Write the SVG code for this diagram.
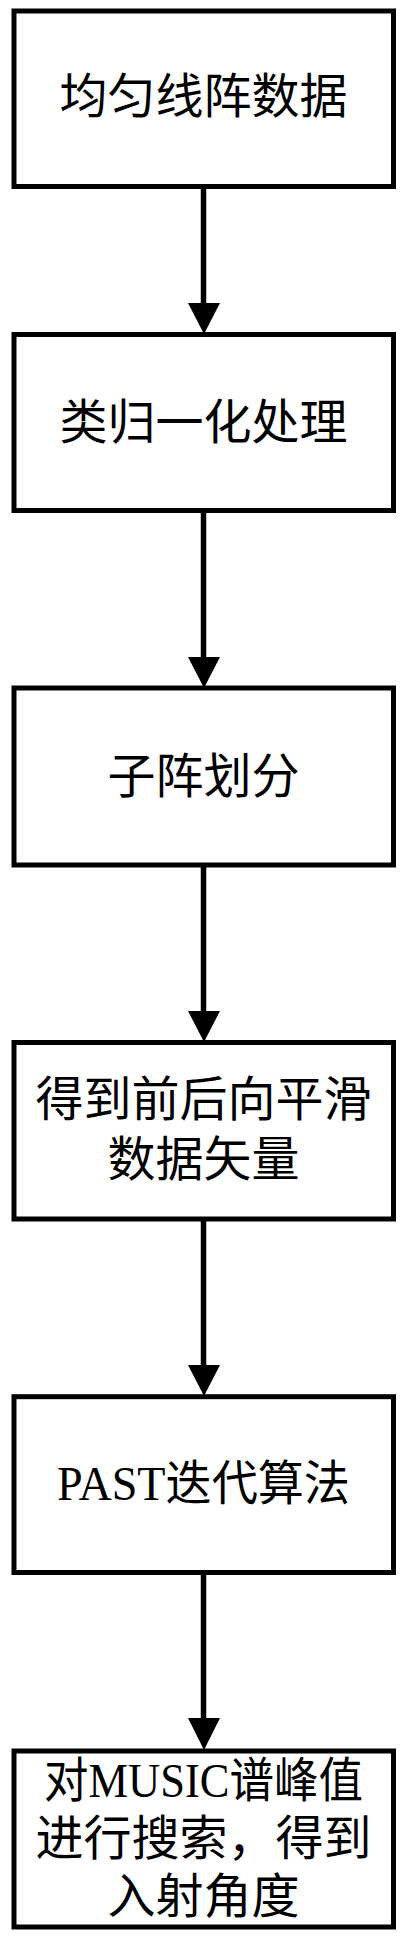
<svg xmlns="http://www.w3.org/2000/svg" width="410" height="1940" viewBox="0 0 410 1940">
<style>
.box{fill:#fff;stroke:#000;stroke-width:5}
.t{font-family:"Liberation Serif","Noto Sans CJK SC",serif;font-size:48px;fill:#000;text-anchor:middle}
.ln{stroke:#000;stroke-width:5.5;fill:none}
.ah{fill:#000}
</style>
<rect width="410" height="1940" fill="#fff"/>
<g id="connectors">
<line class="ln" x1="203.5" y1="189" x2="203.5" y2="305"/><polygon class="ah" points="188,303 220,303 204,334"/>
<line class="ln" x1="203.5" y1="513" x2="203.5" y2="659"/><polygon class="ah" points="188,657 220,657 204,688"/>
<line class="ln" x1="203.5" y1="867" x2="203.5" y2="1013"/><polygon class="ah" points="188,1011 220,1011 204,1042"/>
<line class="ln" x1="203.5" y1="1221" x2="203.5" y2="1367"/><polygon class="ah" points="188,1365 220,1365 204,1396"/>
<line class="ln" x1="203.5" y1="1575" x2="203.5" y2="1720"/><polygon class="ah" points="188,1718 220,1718 204,1750"/>
</g>
<g id="n1"><rect class="box" x="14" y="11" width="379.5" height="175.5"/><text class="t" x="203.5" y="113">均匀线阵数据</text></g>
<g id="n2"><rect class="box" x="14" y="334.5" width="379.5" height="176"/><text class="t" x="203.5" y="438.5">类归一化处理</text></g>
<g id="n3"><rect class="box" x="14" y="688" width="379.5" height="177"/><text class="t" x="203.5" y="792.7">子阵划分</text></g>
<g id="n4"><rect class="box" x="14" y="1042.5" width="379.5" height="176.5"/><text class="t" x="203.5" y="1116.3">得到前后向平滑</text><text class="t" x="203.5" y="1176.3">数据矢量</text></g>
<g id="n5"><rect class="box" x="14" y="1396.7" width="379.5" height="175.8"/><text class="t" x="203.5" y="1499.5" textLength="293" lengthAdjust="spacingAndGlyphs">PAST迭代算法</text></g>
<g id="n6"><rect class="box" x="14" y="1751" width="379.5" height="176"/><text class="t" x="203.5" y="1797" textLength="319" lengthAdjust="spacingAndGlyphs">对MUSIC谱峰值</text><text class="t" x="203.5" y="1854.5">进行搜索，得到</text><text class="t" x="203.5" y="1913">入射角度</text></g>
</svg>
